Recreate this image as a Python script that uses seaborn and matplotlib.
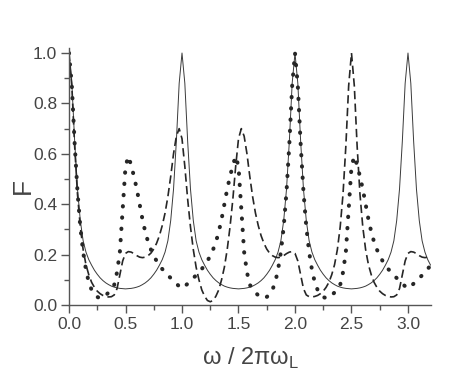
import numpy as np
import pandas as pd
import matplotlib
matplotlib.use('Agg')
import matplotlib.pyplot as plt
import seaborn as sns

# frequency grid omega / 2 pi omega_L (step 0.025)
omega = np.round(np.linspace(0, 3.2, 129), 3)

# solid curve
f_solid = [1.0, 0.88, 0.65, 0.46, 0.335, 0.255, 0.21, 0.18, 0.158, 0.138, 0.122, 0.108, 0.097, 0.088, 0.081, 0.075, 0.071, 0.068, 0.066, 0.065, 0.064,
           0.065, 0.066, 0.068, 0.071, 0.075, 0.081, 0.088, 0.097, 0.108, 0.122, 0.138, 0.158, 0.18, 0.21, 0.255, 0.335, 0.46, 0.65, 0.88, 1.0,
           0.88, 0.65, 0.46, 0.335, 0.255, 0.21, 0.18, 0.158, 0.138, 0.122, 0.108, 0.097, 0.088, 0.081, 0.075, 0.071, 0.068, 0.066, 0.065, 0.064,
           0.065, 0.066, 0.068, 0.071, 0.075, 0.081, 0.088, 0.097, 0.108, 0.122, 0.138, 0.158, 0.18, 0.21, 0.255, 0.335, 0.46, 0.65, 0.88, 1.0,
           0.88, 0.65, 0.46, 0.335, 0.255, 0.21, 0.18, 0.158, 0.138, 0.122, 0.108, 0.097, 0.088, 0.081, 0.075, 0.071, 0.068, 0.066, 0.065, 0.064,
           0.065, 0.066, 0.068, 0.071, 0.075, 0.081, 0.088, 0.097, 0.108, 0.122, 0.138, 0.158, 0.18, 0.21, 0.255, 0.335, 0.46, 0.65, 0.88, 1.0,
           0.88, 0.65, 0.46, 0.335, 0.255, 0.21, 0.18, 0.158]

# dashed curve
f_dashed = [1.0, 0.87, 0.63, 0.44, 0.31, 0.22, 0.16, 0.12, 0.09, 0.07, 0.055, 0.045, 0.038, 0.034, 0.032, 0.033, 0.04, 0.065, 0.12, 0.175, 0.205,
            0.212, 0.21, 0.204, 0.196, 0.19, 0.188, 0.19, 0.196, 0.206, 0.222, 0.245, 0.275, 0.315, 0.365, 0.43, 0.51, 0.6, 0.67, 0.7, 0.66,
            0.55, 0.42, 0.31, 0.22, 0.15, 0.1, 0.06, 0.035, 0.018, 0.013,
            0.018, 0.035, 0.06, 0.1, 0.15, 0.22, 0.31, 0.42, 0.55, 0.66, 0.7, 0.67, 0.6, 0.51, 0.43, 0.365, 0.315, 0.275, 0.245, 0.222,
            0.206, 0.196, 0.19, 0.188, 0.19, 0.196, 0.204, 0.21, 0.212, 0.205, 0.175, 0.12, 0.065, 0.04, 0.033, 0.032, 0.034, 0.038, 0.045, 0.055,
            0.07, 0.09, 0.12, 0.16, 0.22, 0.31, 0.44, 0.63, 0.87, 1.0,
            0.87, 0.63, 0.44, 0.31, 0.22, 0.16, 0.12, 0.09, 0.07, 0.055, 0.045, 0.038, 0.034, 0.032, 0.033, 0.04, 0.065, 0.12, 0.175, 0.205,
            0.212, 0.21, 0.204, 0.196, 0.19, 0.188, 0.19, 0.196]

# dotted curve
f_dotted = [1.0, 0.87, 0.64, 0.45, 0.31, 0.21, 0.14, 0.09, 0.06, 0.042, 0.032, 0.027, 0.03, 0.038, 0.05, 0.065, 0.08, 0.13, 0.21, 0.38, 0.55,
            0.59, 0.555, 0.51, 0.46, 0.4, 0.34, 0.29, 0.25, 0.22, 0.195, 0.175, 0.158, 0.143, 0.13, 0.118, 0.107, 0.096, 0.085, 0.074, 0.066,
            0.074, 0.085, 0.096, 0.107, 0.118, 0.13, 0.143, 0.158, 0.175, 0.195, 0.22, 0.25, 0.29, 0.34, 0.4, 0.46, 0.51, 0.555, 0.59, 0.55,
            0.38, 0.21, 0.13, 0.08, 0.065, 0.05, 0.038, 0.03, 0.027, 0.032, 0.042, 0.06, 0.09, 0.14, 0.21, 0.31, 0.45, 0.64, 0.87, 1.0,
            0.87, 0.64, 0.45, 0.31, 0.21, 0.14, 0.09, 0.06, 0.042, 0.032, 0.027, 0.03, 0.038, 0.05, 0.065, 0.08, 0.13, 0.21, 0.38, 0.55,
            0.59, 0.555, 0.51, 0.46, 0.4, 0.34, 0.29, 0.25, 0.22, 0.195, 0.175, 0.158, 0.143, 0.13, 0.118, 0.107, 0.096, 0.085, 0.074, 0.066,
            0.074, 0.085, 0.096, 0.107, 0.118, 0.13, 0.143, 0.158]

x_ticks = [0.0, 0.5, 1.0, 1.5, 2.0, 2.5, 3.0]
y_ticks = [0.0, 0.2, 0.4, 0.6, 0.8, 1.0]

sns.set_style('ticks')
plt.rcParams['font.family'] = ['Liberation Sans', 'DejaVu Sans']
plt.rcParams['mathtext.fontset'] = 'custom'
plt.rcParams['mathtext.rm'] = 'Liberation Sans'

df = pd.DataFrame({'omega': omega, 'solid': f_solid, 'dashed': f_dashed, 'dotted': f_dotted})

fig = plt.figure(figsize=(4.74, 3.92), dpi=100)
ax = fig.add_axes([0.1456, 0.2219, 0.7628, 0.6557])

line_col = '#262626'
sns.lineplot(data=df, x='omega', y='solid', ax=ax, color='#3a3a3a', linewidth=0.7,
             estimator=None, sort=False)
sns.lineplot(data=df, x='omega', y='dashed', ax=ax, color=line_col, linewidth=1.2,
             linestyle=(0, (5.0, 2.6)), estimator=None, sort=False)
sns.lineplot(data=df, x='omega', y='dotted', ax=ax, color=line_col, linewidth=2.9,
             linestyle=(0, (0.1, 2.7)), dash_capstyle='round', estimator=None, sort=False)

ax.set_xlim(0, 3.2)
ax.set_ylim(0, 1.02)
ax.set_xticks(x_ticks)
ax.set_yticks(y_ticks)
ax.set_xticks(np.arange(0, 3.21, 0.25), minor=True)
ax.set_yticks(np.arange(0, 1.01, 0.1), minor=True)
ax.xaxis.set_major_formatter(matplotlib.ticker.FormatStrFormatter('%.1f'))
ax.yaxis.set_major_formatter(matplotlib.ticker.FormatStrFormatter('%.1f'))

txt_col = '#444444'
ax.tick_params(which='major', direction='out', length=6, width=1.0, color='#555555',
               labelsize=12.5, labelcolor=txt_col, pad=2.5)
ax.tick_params(which='minor', direction='out', length=3.5, width=1.0, color='#555555')
for s in ['left', 'bottom']:
    ax.spines[s].set_color('#555555')
    ax.spines[s].set_linewidth(1.0)
sns.despine(ax=ax)

ax.set_xlabel('')
ax.set_ylabel('')
fig.text(250 / 474, 1 - 358 / 392, r'ω / 2πω$_\mathrm{L}$', fontsize=17, color=txt_col,
         ha='center', va='center')
fig.text(23 / 474, 1 - 186 / 392, 'F', fontsize=19, color=txt_col, rotation=90,
         ha='center', va='center')

plt.savefig('out.png', dpi=100)
